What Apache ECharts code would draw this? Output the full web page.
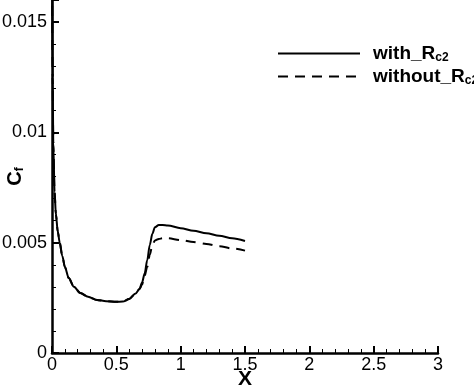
<!DOCTYPE html>
<html><head><meta charset="utf-8">
<script src="https://cdn.jsdelivr.net/npm/echarts@6/dist/echarts.min.js"></script>
<style>html,body{margin:0;padding:0;background:#fff}#c{width:474px;height:387px}</style>
</head><body><div id="c"></div>
<script>
const xWith = [0.001, 0.005, 0.01, 0.02, 0.03, 0.045, 0.06, 0.08, 0.1, 0.13, 0.17, 0.22, 0.28, 0.35, 0.42, 0.5, 0.55, 0.6, 0.65, 0.68, 0.7, 0.72, 0.74, 0.76, 0.78, 0.8, 0.83, 0.86, 0.9, 1.0, 1.1, 1.2, 1.3, 1.4, 1.5];
const cfWith = [0.0165, 0.0125, 0.0095, 0.0073, 0.0063, 0.0055, 0.005, 0.0044, 0.0039, 0.0034, 0.003, 0.00272, 0.00255, 0.0024, 0.00235, 0.00232, 0.00233, 0.00245, 0.0027, 0.0029, 0.0032, 0.0036, 0.0042, 0.0049, 0.0054, 0.0057, 0.0058, 0.0058, 0.00578, 0.00566, 0.00554, 0.00543, 0.00531, 0.0052, 0.00508];
const xWithout = [0.001, 0.005, 0.01, 0.02, 0.03, 0.045, 0.06, 0.08, 0.1, 0.13, 0.17, 0.22, 0.28, 0.35, 0.42, 0.5, 0.55, 0.6, 0.65, 0.68, 0.7, 0.72, 0.74, 0.76, 0.78, 0.8, 0.83, 0.86, 0.9, 1.0, 1.1, 1.2, 1.3, 1.4, 1.5];
const cfWithout = [0.0165, 0.0125, 0.0095, 0.0073, 0.0063, 0.0055, 0.005, 0.0044, 0.0039, 0.0034, 0.003, 0.00272, 0.00255, 0.0024, 0.00235, 0.00232, 0.00233, 0.00245, 0.0027, 0.0029, 0.0031, 0.0035, 0.0039, 0.00445, 0.0049, 0.0051, 0.00517, 0.0052, 0.0052, 0.00512, 0.00503, 0.00494, 0.00484, 0.00474, 0.00464];
const seriesNames = ['with_Rc2', 'without_Rc2'];
const xTicks = [0, 0.5, 1, 1.5, 2, 2.5, 3];
const yTicks = [0, 0.005, 0.01, 0.015];

const F = 'Liberation Sans, Arial, Helvetica, sans-serif';
const pair = (xs, ys) => xs.map((x, i) => [x, ys[i]]);
const chart = echarts.init(document.getElementById('c'));
const axisCommon = {
  axisLine: {show: true, onZero: false, lineStyle: {color: '#000', width: 2.5}},
  axisTick: {show: true, inside: true, length: 7, lineStyle: {color: '#000', width: 2}},
  minorTick: {show: true, splitNumber: 5, length: 4, lineStyle: {color: '#000', width: 1}},
  splitLine: {show: false},
  axisLabel: {color: '#000', fontFamily: F, fontSize: 18}
};
chart.setOption({
  animation: false,
  backgroundColor: '#fff',
  grid: {left: 52, right: 36, top: 0, bottom: 34, containLabel: false, outerBoundsMode: 'none'},
  xAxis: Object.assign({}, axisCommon, {
    type: 'value', min: xTicks[0], max: xTicks[xTicks.length - 1], interval: 0.5,
    name: 'X', nameLocation: 'middle', nameGap: 16, nameMoveOverlap: false,
    nameTextStyle: {color: '#000', fontFamily: F, fontSize: 21, fontWeight: 'bold'},
    axisLabel: Object.assign({}, axisCommon.axisLabel, {margin: 3})
  }),
  yAxis: Object.assign({}, axisCommon, {
    type: 'value', min: yTicks[0], max: 0.016, interval: 0.005,
    name: '{c|C}{f|f}', nameLocation: 'middle', nameGap: 26, nameRotate: 90, nameMoveOverlap: false,
    nameTextStyle: {color: '#000', fontFamily: F, rich: {
      c: {fontSize: 20, fontWeight: 'bold', fontFamily: F, color: '#000'},
      f: {fontSize: 12, fontWeight: 'bold', fontFamily: F, color: '#000', padding: [9, 0, 0, 0]}
    }},
    axisLabel: Object.assign({}, axisCommon.axisLabel, {margin: 5,
      formatter: v => yTicks.some(t => Math.abs(t - v) < 1e-9) ? String(+v.toFixed(4)) : ''})
  }),
  legend: {
    orient: 'vertical', left: 277, top: 44, itemWidth: 82, itemHeight: 14, itemGap: 3, padding: 0,
    data: seriesNames,
    itemStyle: {opacity: 0},
    formatter: n => n === 'with_Rc2' ? '{b|with_R}{s|c2}' : '{b|without_R}{s|c2}',
    textStyle: {color: '#000', fontFamily: F, padding: [0, 0, 0, 8], rich: {
      b: {fontSize: 19, fontWeight: 'bold', fontFamily: F, color: '#000'},
      s: {fontSize: 12, fontWeight: 'bold', fontFamily: F, color: '#000', padding: [9, 0, 0, 0]}
    }}
  },
  series: [
    {name: seriesNames[0], type: 'line', data: pair(xWith, cfWith), symbol: 'none', smooth: 0.3, smoothMonotone: 'x',
     lineStyle: {color: '#000', width: 2}, itemStyle: {color: '#000'}, clip: true},
    {name: seriesNames[1], type: 'line', data: pair(xWithout, cfWithout), symbol: 'none', smooth: 0.3, smoothMonotone: 'x',
     lineStyle: {color: '#000', width: 2, type: [10, 7]}, itemStyle: {color: '#000'}, clip: true}
  ]
});
</script></body></html>
